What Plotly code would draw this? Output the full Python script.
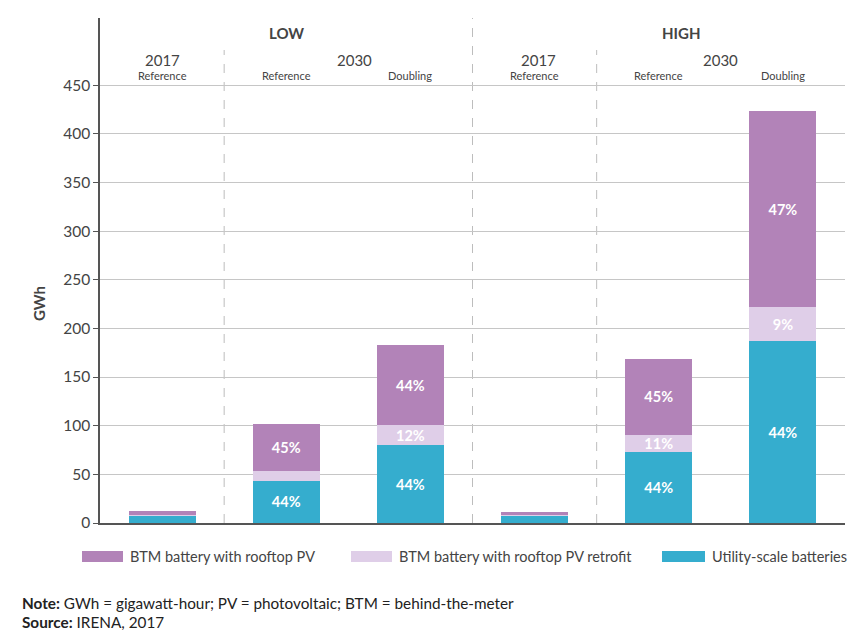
import plotly.graph_objects as go

# ============================
#   data
# ============================
categories = ['LOW 2017 Reference', 'LOW 2030 Reference', 'LOW 2030 Doubling',
              'HIGH 2017 Reference', 'HIGH 2030 Reference', 'HIGH 2030 Doubling']

utility_scale = [8.2, 43.2, 80.1, 8.2, 73.3, 187.0]
btm_retrofit = [0.4, 10.2, 20.6, 0.4, 17.4, 35.0]
btm_rooftop = [3.7, 48.3, 82.2, 2.7, 77.8, 201.0]

utility_labels = ['', '44%', '44%', '', '44%', '44%']
retrofit_labels = ['', '', '12%', '', '11%', '9%']
rooftop_labels = ['', '45%', '44%', '', '45%', '47%']

series_names = ['BTM battery with rooftop PV', 'BTM battery with rooftop PV retrofit',
                'Utility-scale batteries']
series_colors = ['#B283B8', '#DFCEE8', '#35ADCE']

scenario_labels = ['LOW', 'HIGH']
year_labels = ['2017', '2030', '2017', '2030']
case_labels = ['Reference', 'Reference', 'Doubling', 'Reference', 'Reference', 'Doubling']

y_ticks = [0, 50, 100, 150, 200, 250, 300, 350, 400, 450]

FONT = 'Lato'
TXT = '#444444'

# the page body adds an 8px margin, so the figure is drawn 8px smaller
OFF = 8
W, H = 860 - OFF, 637 - OFF
# plot box in reference pixels
L, R, T, B = 100, 845, 18, 523


def px_x(p):
    return (p - L) / (R - L)


def px_y(p):
    return (B - p) / (B - T)


fig = go.Figure()

# stack order: utility at the bottom, retrofit, then rooftop PV
stack = [
    (series_names[2], utility_scale, utility_labels, series_colors[2]),
    (series_names[1], btm_retrofit, retrofit_labels, series_colors[1]),
    (series_names[0], btm_rooftop, rooftop_labels, series_colors[0]),
]
for name, vals, labels, color in stack:
    fig.add_trace(go.Bar(
        x=categories,
        y=vals,
        name=name,
        marker=dict(color=color, line=dict(width=0)),
        text=labels,
        textposition='inside',
        insidetextanchor='middle',
        textfont=dict(family=FONT, size=14.5, color='white', weight='bold'),
        constraintext='none',
        width=0.54,
        showlegend=False,
    ))

fig.update_layout(
    barmode='stack',
    width=W, height=H,
    margin=dict(l=L - OFF, r=W - (R - OFF), t=T - OFF, b=H - (B - OFF), autoexpand=False),
    plot_bgcolor='white', paper_bgcolor='white',
    font=dict(family=FONT, color=TXT),
    xaxis=dict(showticklabels=False, showgrid=False, showline=True,
               linecolor='#555', linewidth=1.5, ticks='', zeroline=False),
    yaxis=dict(range=[0, 519], tickvals=y_ticks, showgrid=True, gridcolor='#c6c6c6',
               gridwidth=1, showline=True, linecolor='#555', linewidth=1.5,
               ticks='outside', ticklen=5, tickcolor='#555', zeroline=False,
               tickfont=dict(size=15.5, color=TXT)),
)

# group separators: the middle one runs to the top, the others stop under LOW / HIGH
for xs in [0.5, 2.5, 3.5]:
    fig.add_shape(type='line', xref='x', yref='paper', x0=xs, x1=xs, y0=0,
                  y1=1.0 if xs == 2.5 else px_y(50),
                  line=dict(color='#bdbdbd', width=1, dash='dash'), layer='below')


def note(x, y, text, size, **kw):
    fig.add_annotation(x=x, y=y, yref='paper', text=text, showarrow=False,
                       yanchor='middle', font=dict(size=size, color=kw.pop('color', TXT)), **kw)


# header texts
note(1, px_y(33), '<b>' + scenario_labels[0] + '</b>', 15, xref='x')
note(4.18, px_y(33), '<b>' + scenario_labels[1] + '</b>', 15, xref='x')
for xs, yr in zip([0, 1.55, 3.03, 4.5], year_labels):
    note(xs, px_y(60), yr, 15, xref='x')
for i, cl in enumerate(case_labels):
    note(i, px_y(75), cl, 11, xref='x')

# y axis title
note(px_x(28), px_y(304), '<b>GWh</b>', 15, xref='paper', textangle=-90)

# legend drawn by hand to get the wide swatches
legend_swatch = [(82, 123), (351, 392), (662, 705)]
for (x0, x1), name, color in zip(legend_swatch, series_names, series_colors):
    fig.add_shape(type='rect', xref='paper', yref='paper', x0=px_x(x0), x1=px_x(x1),
                  y0=px_y(562), y1=px_y(551), fillcolor=color, line=dict(width=0))
    note(px_x(x1 + 5), px_y(556), name, 14.5, xref='paper', xanchor='left')

# notes
note(px_x(20), px_y(603),
     '<b>Note:</b> GWh = gigawatt-hour; PV = photovoltaic; BTM = behind-the-meter',
     15.3, xref='paper', xanchor='left', color='#222')
note(px_x(20), px_y(622), '<b>Source:</b> IRENA, 2017', 15.3, xref='paper',
     xanchor='left', color='#222')

fig.write_html("out.html")
